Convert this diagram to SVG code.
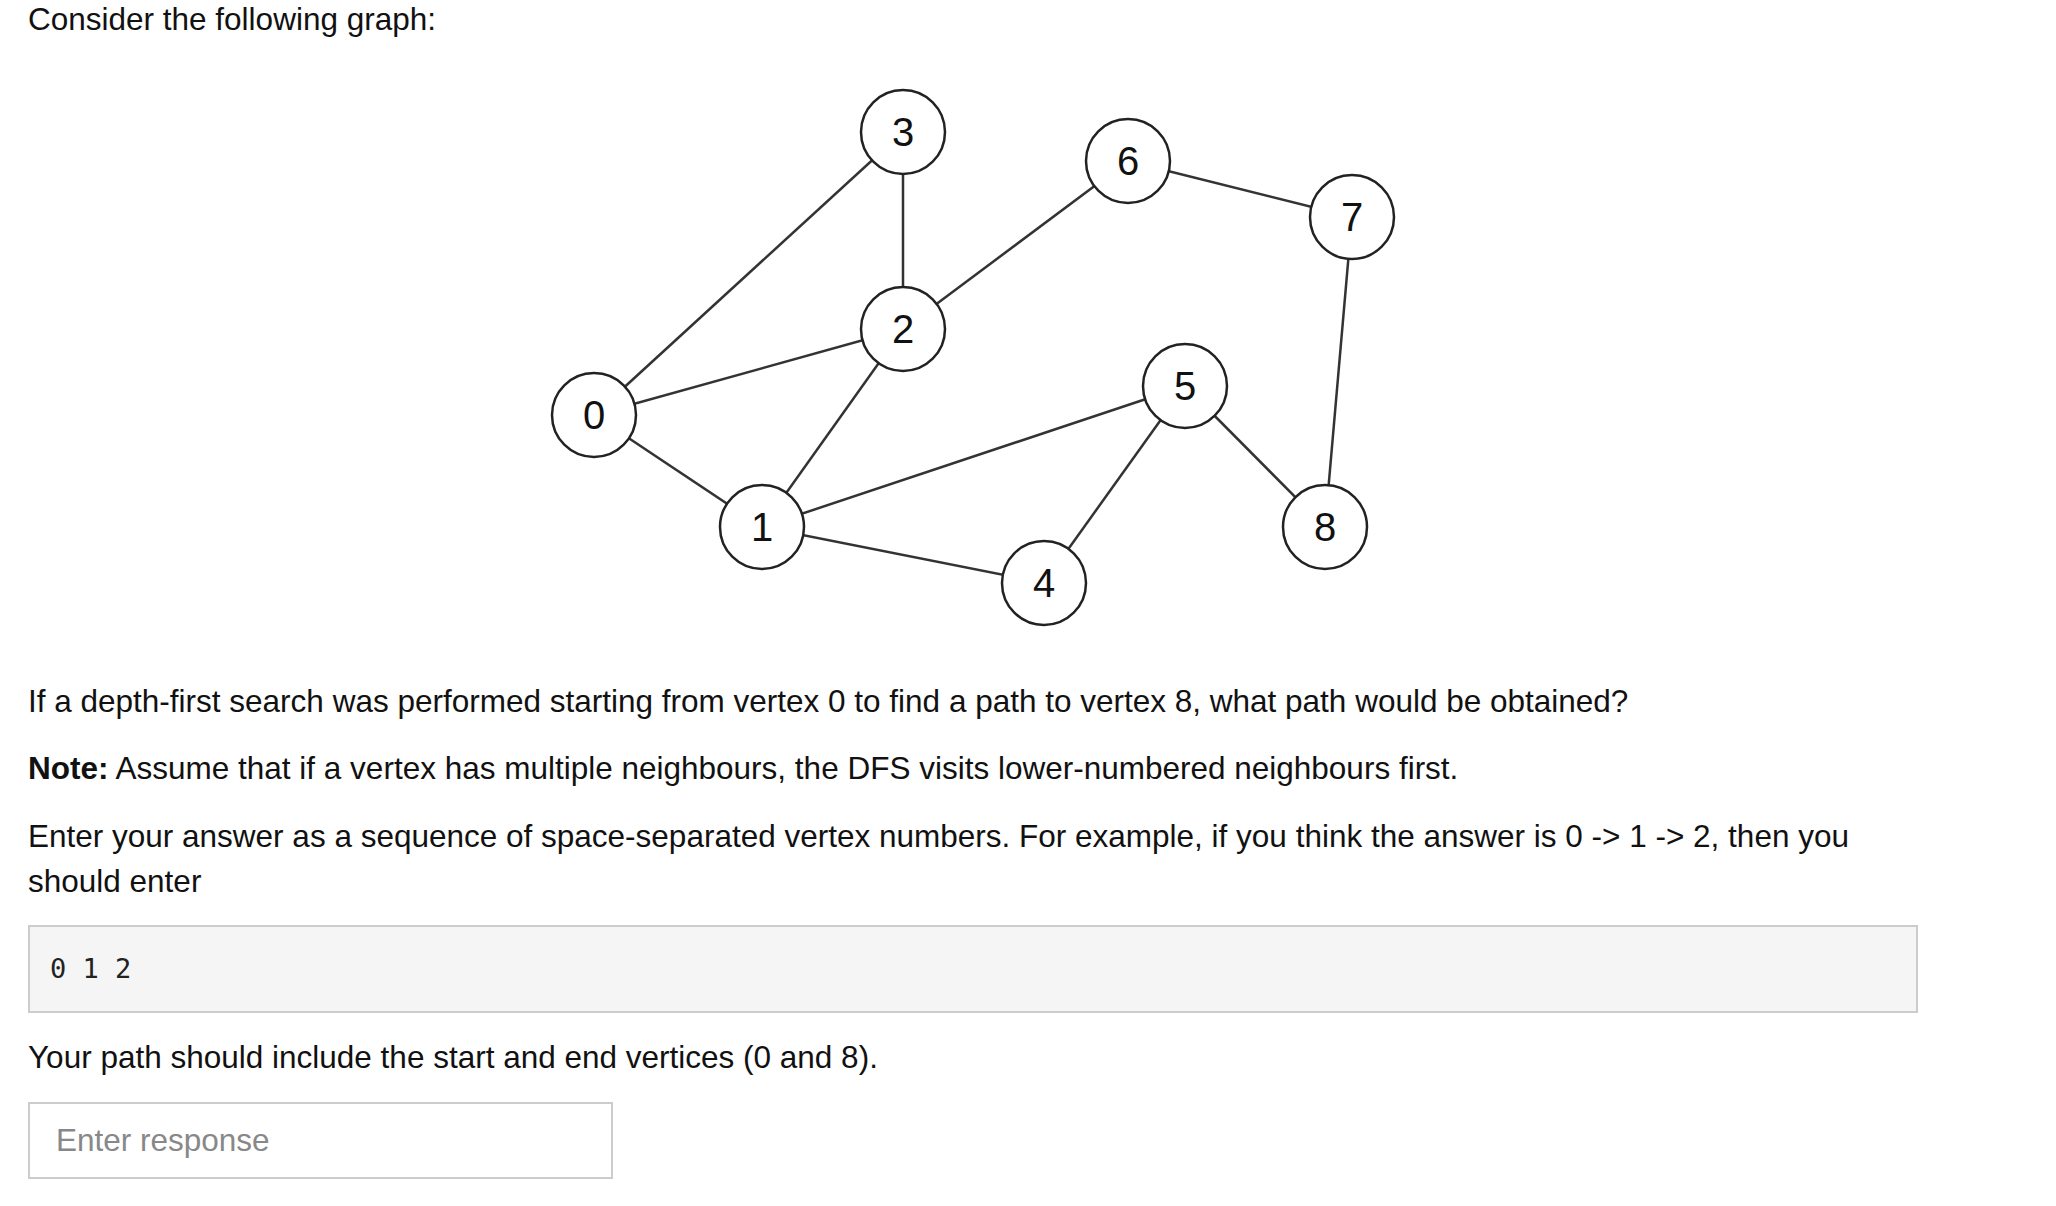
<svg xmlns="http://www.w3.org/2000/svg" width="2056" height="1206" viewBox="0 0 2056 1206">
<style>
.t{font-family:"Liberation Sans",Arial,sans-serif;font-size:31.5px;fill:#111}
.n circle{fill:#fff;stroke:#222;stroke-width:2.5}
.n text{font-family:"Liberation Sans",Arial,sans-serif;font-size:40px;fill:#111;text-anchor:middle;dominant-baseline:central}
.e line{stroke:#333;stroke-width:2.5}
</style>
<rect width="2056" height="1206" fill="#fff"/>
<g transform="translate(-4,-4)">
<text class="t" x="32" y="34">Consider the following graph:</text>
<g class="e" id="connectors">
<line x1="598" y1="419" x2="907" y2="136"/>
<line x1="598" y1="419" x2="907" y2="333"/>
<line x1="598" y1="419" x2="766" y2="531"/>
<line x1="907" y1="136" x2="907" y2="333"/>
<line x1="907" y1="333" x2="1132" y2="165"/>
<line x1="907" y1="333" x2="766" y2="531"/>
<line x1="766" y1="531" x2="1189" y2="390"/>
<line x1="766" y1="531" x2="1048" y2="587"/>
<line x1="1189" y1="390" x2="1048" y2="587"/>
<line x1="1189" y1="390" x2="1329" y2="531"/>
<line x1="1132" y1="165" x2="1356" y2="221"/>
<line x1="1356" y1="221" x2="1329" y2="531"/>
</g>
<g class="n" id="n0"><circle cx="598" cy="419" r="42"/><text x="598" y="419">0</text></g>
<g class="n" id="n1"><circle cx="766" cy="531" r="42"/><text x="766" y="531">1</text></g>
<g class="n" id="n2"><circle cx="907" cy="333" r="42"/><text x="907" y="333">2</text></g>
<g class="n" id="n3"><circle cx="907" cy="136" r="42"/><text x="907" y="136">3</text></g>
<g class="n" id="n4"><circle cx="1048" cy="587" r="42"/><text x="1048" y="587">4</text></g>
<g class="n" id="n5"><circle cx="1189" cy="390" r="42"/><text x="1189" y="390">5</text></g>
<g class="n" id="n6"><circle cx="1132" cy="165" r="42"/><text x="1132" y="165">6</text></g>
<g class="n" id="n7"><circle cx="1356" cy="221" r="42"/><text x="1356" y="221">7</text></g>
<g class="n" id="n8"><circle cx="1329" cy="531" r="42"/><text x="1329" y="531">8</text></g>
<text class="t" x="32" y="716">If a depth-first search was performed starting from vertex 0 to find a path to vertex 8, what path would be obtained?</text>
<text class="t" x="32" y="783"><tspan font-weight="bold">Note:</tspan> Assume that if a vertex has multiple neighbours, the DFS visits lower-numbered neighbours first.</text>
<text class="t" x="32" y="851">Enter your answer as a sequence of space-separated vertex numbers. For example, if you think the answer is 0 -&gt; 1 -&gt; 2, then you</text>
<text class="t" x="32" y="896">should enter</text>
<rect x="33" y="930" width="1888" height="86" fill="#f5f5f5" stroke="#ccc" stroke-width="2"/>
<text x="54" y="982" font-family="DejaVu Sans Mono,monospace" font-size="27" fill="#222">0 1 2</text>
<text class="t" x="32" y="1072">Your path should include the start and end vertices (0 and 8).</text>
<rect x="33" y="1107" width="583" height="75" fill="#fff" stroke="#ccc" stroke-width="2"/>
<text class="t" x="60" y="1155" style="fill:#888">Enter response</text>
</g>
</svg>
